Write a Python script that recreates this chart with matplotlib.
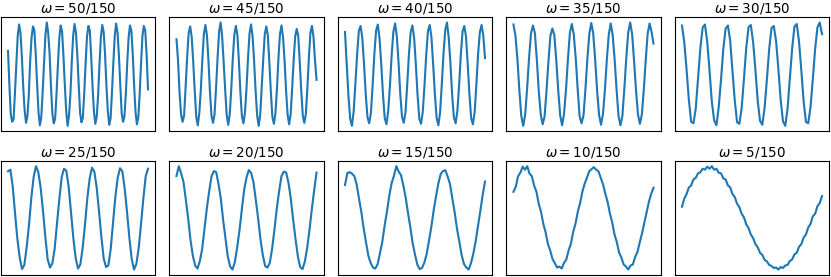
import numpy as np
import matplotlib.pyplot as plt

# frequencies shown in the panel titles (numerator over 150)
omegas = [50, 45, 40, 35, 30, 25, 20, 15, 10, 5]

# noisy signal values (evenly spaced samples)
w50 = [0.47, -0.21, -0.80, -0.95, -0.90, -0.38, 0.20, 0.77, 1.00, 0.83,
       0.36, -0.26, -0.72, -0.97, -0.84, -0.41, 0.27, 0.74, 0.96, 0.89,
       0.40, -0.19, -0.76, -1.02, -0.86, -0.35, 0.22, 0.79, 1.04, 0.83,
       0.42, -0.24, -0.78, -0.98, -0.89, -0.39, 0.19, 0.73, 0.98, 0.86,
       0.37, -0.22, -0.74, -1.03, -0.83, -0.40, 0.25, 0.78, 1.01, 0.84,
       0.39, -0.20, -0.77, -0.96, -0.87, -0.37, 0.23, 0.76, 0.97, 0.88,
       0.36, -0.25, -0.75, -0.99, -0.85, -0.42, 0.21, 0.75, 0.99, 0.85,
       0.41, -0.23, -0.73, -1.01, -0.88, -0.36, 0.24, 0.77, 1.02, 0.84,
       0.38, -0.21, -0.78, -0.95, -0.84, -0.39, 0.22, 0.74, 0.98, 0.87,
       0.40, -0.24, -0.76, -1.00, -0.86, -0.38, 0.23, 0.78, 0.97, 0.88,
       0.40, -0.30]
w45 = [0.72, 0.30, -0.36, -0.80, -0.95, -0.82, -0.25, 0.36, 0.85, 0.98,
       0.76, 0.26, -0.33, -0.86, -1.02, -0.77, -0.29, 0.31, 0.83, 1.01,
       0.80, 0.29, -0.35, -0.83, -0.97, -0.80, -0.26, 0.35, 0.88, 1.06,
       0.77, 0.25, -0.31, -0.81, -1.01, -0.79, -0.28, 0.33, 0.81, 0.99,
       0.81, 0.28, -0.36, -0.84, -0.98, -0.76, -0.27, 0.34, 0.84, 1.02,
       0.78, 0.27, -0.33, -0.82, -1.03, -0.81, -0.25, 0.32, 0.82, 0.98,
       0.80, 0.26, -0.35, -0.85, -0.99, -0.78, -0.29, 0.35, 0.83, 1.00,
       0.76, 0.29, -0.32, -0.80, -1.00, -0.80, -0.27, 0.30, 0.78, 0.93,
       0.79, 0.25, -0.34, -0.83, -0.97, -0.79, -0.26, 0.36, 0.85, 0.99,
       0.77, 0.30, -0.10]
w40 = [0.85, 0.21, -0.42, -0.88, -1.02, -0.74, -0.19, 0.40, 0.87, 0.97,
       0.74, 0.22, -0.39, -0.85, -0.97, -0.76, -0.21, 0.42, 0.88, 1.00,
       0.72, 0.19, -0.41, -0.87, -0.99, -0.72, -0.22, 0.39, 0.86, 1.02,
       0.76, 0.23, -0.40, -0.84, -0.96, -0.75, -0.20, 0.41, 0.85, 0.98,
       0.73, 0.20, -0.42, -0.88, -0.98, -0.74, -0.21, 0.40, 0.87, 0.99,
       0.75, 0.21, -0.39, -0.86, -1.01, -0.76, -0.19, 0.42, 0.89, 1.04,
       0.74, 0.22, -0.41, -0.85, -0.97, -0.73, -0.22, 0.39, 0.86, 0.97,
       0.76, 0.20, -0.40, -0.87, -0.99, -0.75, -0.20, 0.41, 0.84, 0.99,
       0.78, 0.33]
w35 = [1.00, 0.78, 0.32, -0.30, -0.82, -1.02, -0.80, -0.28, 0.33, 0.82,
       0.98, 0.83, 0.30, -0.33, -0.79, -0.99, -0.83, -0.31, 0.28, 0.78,
       0.92, 0.79, 0.29, -0.31, -0.81, -1.01, -0.78, -0.30, 0.31, 0.83,
       1.01, 0.80, 0.33, -0.28, -0.83, -0.97, -0.81, -0.29, 0.32, 0.81,
       1.03, 0.82, 0.30, -0.32, -0.80, -1.00, -0.79, -0.31, 0.30, 0.80,
       1.02, 0.79, 0.31, -0.29, -0.82, -1.01, -0.82, -0.28, 0.33, 0.84,
       1.04, 0.81, 0.28, -0.31, -0.79, -0.98, -0.80, -0.30, 0.29, 0.82,
       1.02, 0.85, 0.62]
w30 = [0.97, 0.64, 0.10, -0.50, -0.93, -0.96, -0.67, -0.07, 0.52, 0.93,
       0.99, 0.65, 0.08, -0.53, -0.90, -1.00, -0.64, -0.10, 0.50, 0.91,
       0.97, 0.67, 0.07, -0.51, -0.94, -0.97, -0.66, -0.08, 0.53, 0.94,
       0.98, 0.64, 0.09, -0.52, -0.91, -0.99, -0.65, -0.09, 0.51, 0.92,
       0.96, 0.66, 0.11, -0.50, -0.92, -1.01, -0.67, -0.07, 0.52, 0.95,
       1.00, 0.65, 0.08, -0.53, -0.93, -0.96, -0.64, -0.09, 0.50, 0.93,
       1.03, 0.80]
w25 = [0.92, 0.95, 0.63, 0.10, -0.41, -0.78, -1.01, -0.93, -0.58, -0.14, 0.40, 0.81,
       1.02, 0.90, 0.59, 0.14, -0.38, -0.82, -0.98, -0.90, -0.61, -0.11, 0.37, 0.80,
       0.97, 0.93, 0.61, 0.11, -0.40, -0.79, -1.00, -0.92, -0.59, -0.13, 0.39, 0.78,
       0.99, 0.91, 0.60, 0.13, -0.37, -0.80, -0.97, -0.94, -0.62, -0.10, 0.41, 0.79,
       0.98, 0.92, 0.58, 0.12, -0.39, -0.81, -1.02, -0.91, -0.60, -0.12, 0.38, 0.82,
       0.97]
w20 = [0.88, 1.08, 0.93, 0.76, 0.40, 0.02, -0.42, -0.74, -0.94, -1.00, -0.85, -0.60, -0.19, 0.22, 0.57,
       0.87, 0.98, 0.96, 0.72, 0.42, -0.02, -0.39, -0.76, -0.96, -1.02, -0.87, -0.57, -0.22, 0.20, 0.60,
       0.85, 1.00, 0.94, 0.75, 0.39, 0.01, -0.41, -0.73, -0.95, -0.98, -0.88, -0.59, -0.20, 0.23, 0.58,
       0.88, 0.97, 0.95, 0.74, 0.41, -0.01, -0.40, -0.75, -0.97, -1.01, -0.86, -0.58, -0.21, 0.21, 0.59,
       0.95]
w15 = [0.69, 0.93, 0.95, 0.92, 0.87, 0.70, 0.42, 0.15, -0.18, -0.46,
       -0.73, -0.88, -0.97, -0.99, -0.90, -0.68, -0.45, -0.12, 0.16, 0.48,
       0.73, 0.88, 1.07, 0.96, 0.89, 0.68, 0.44, 0.13, -0.16, -0.48,
       -0.71, -0.91, -1.00, -0.98, -0.87, -0.70, -0.43, -0.15, 0.18, 0.46,
       0.72, 0.91, 0.97, 0.99, 0.86, 0.71, 0.42, 0.14, -0.19, -0.45,
       -0.72, -0.90, -0.97, -1.01, -0.88, -0.69, -0.44, -0.13, 0.17, 0.49,
       0.76]
w10 = [0.52, 0.62, 0.83, 0.90, 1.02, 0.96, 1.03, 0.88, 0.83, 0.64,
       0.52, 0.28, 0.12, -0.12, -0.29, -0.52, -0.65, -0.82, -0.90, -0.99,
       -0.97, -1.01, -0.90, -0.83, -0.65, -0.52, -0.28, -0.12, 0.12, 0.29,
       0.52, 0.68, 0.80, 0.93, 0.97, 1.01, 0.96, 0.93, 0.80, 0.67,
       0.48, 0.32, 0.09, -0.09, -0.33, -0.48, -0.69, -0.79, -0.93, -0.97,
       -1.03, -0.95, -0.93, -0.78, -0.68, -0.49, -0.31, -0.10, 0.11, 0.32,
       0.48, 0.60]
w5 = [0.22, 0.38, 0.47, 0.60, 0.64, 0.76, 0.79, 0.88, 0.90, 0.97,
      0.95, 1.01, 0.97, 1.02, 0.95, 0.97, 0.89, 0.88, 0.78, 0.76,
      0.64, 0.60, 0.47, 0.41, 0.28, 0.21, 0.08, 0.01, -0.13, -0.20,
      -0.33, -0.40, -0.52, -0.58, -0.69, -0.73, -0.83, -0.86, -0.93, -0.95,
      -0.99, -0.98, -1.02, -0.97, -0.99, -0.94, -0.93, -0.85, -0.82, -0.72,
      -0.69, -0.57, -0.52, -0.39, -0.33, -0.19, -0.12, 0.03, 0.08, 0.23,
      0.29, 0.43]

series = [w50, w45, w40, w35, w30, w25, w20, w15, w10, w5]

fig, axes = plt.subplots(2, 5, figsize=(831 / 72, 277 / 72), dpi=72)
fig.subplots_adjust(left=1 / 831, right=829 / 831, top=1 - 17.3 / 277,
                    bottom=1 - 274.7 / 277, wspace=0.094, hspace=0.264)

# one panel per frequency, no ticks
for ax, w, y in zip(axes.flat, omegas, series):
    ax.plot(np.arange(len(y)), y, lw=2.1)
    ax.set_title(r'$\omega = %d/150$' % w, fontsize=13.5, pad=5)
    ax.set_xticks([])
    ax.set_yticks([])
    for s in ax.spines.values():
        s.set_linewidth(1.1)

fig.savefig('out.png', dpi=72)
